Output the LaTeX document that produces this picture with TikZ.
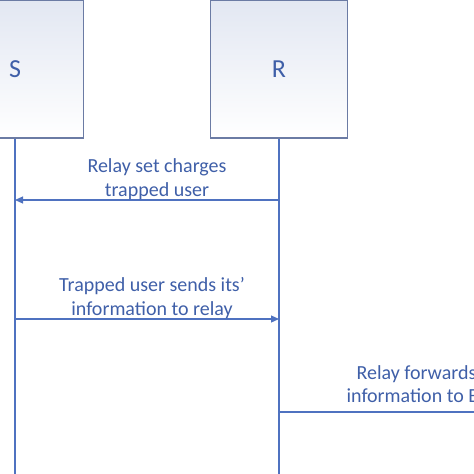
\documentclass[tikz,border=0pt]{standalone}
\usepackage{fontspec}
\setmainfont{Carlito}
\usetikzlibrary{arrows.meta}
\definecolor{boxline}{HTML}{6B7BA4}
\definecolor{msgline}{HTML}{4F72C0}
\definecolor{msgtext}{HTML}{3F5FA8}
\definecolor{boxtop}{HTML}{E2E7F2}

\begin{document}
\begin{tikzpicture}[x=1pt,y=1pt,
	actor/.style={draw=boxline, line width=1.5pt, top color=boxtop, bottom color=white,
		minimum width=137pt, minimum height=138pt, font=\fontsize{26}{30}\selectfont, text=msgtext},
	life/.style={draw=msgline, line width=1.3pt},
	msg/.style={draw=msgline, line width=1.2pt, -{Triangle[length=8pt,width=7pt]}},
	note/.style={text=msgtext, font=\fontsize{20}{23.5}\selectfont, align=center}]
			%%%%% START %%%%%
			\useasboundingbox (0,0) rectangle (474,-474);
			
			\node[actor] (S) at (15,-69) {S};
			\node[actor] (R) at (279,-69) {R};
			
			\coordinate (Send) at (15,-474);
			\coordinate (Rend) at (279,-474);
			\draw[life] (S.south) -- (Send);
			\draw[life] (R.south) -- (Rend);
			
			\coordinate (s1) at (15,-200);
			\coordinate (r1) at (279,-200);
			\draw[msg] (r1) -- (s1);
			\node[note] (m1) at (157,-179) {Relay set charges\\trapped user};
			
			\coordinate (s2) at (15,-319);
			\coordinate (r2) at (279,-319);
			\draw[msg] (s2) -- (r2);
			\node[note] (m2) at (152,-298) {Trapped user sends its’\\information to relay};
			
			\coordinate (r3) at (279,-412);
			\coordinate (b3) at (490,-412);
			\draw[life, line width=1.2pt] (r3) -- (b3);
			\node[note, align=left, anchor=north west] (m3) at (343,-362) {\hspace{10pt}Relay forwards\\information to B};
			%%%%% END %%%%%
\end{tikzpicture}
\end{document}
